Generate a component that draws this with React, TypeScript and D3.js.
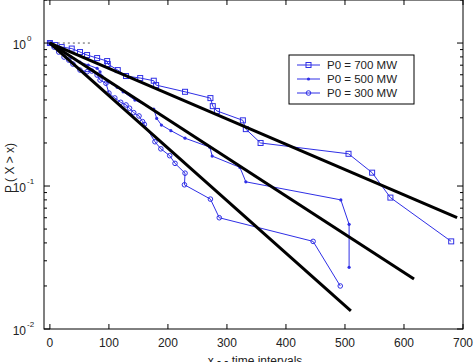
import React from 'react';
import * as d3 from 'd3';

const W = 474;
const H = 362;
const M = { top: 0, right: 11, bottom: 33, left: 44 };

// P0 = 700 MW (squares)
const p700X = [0, 9, 20, 37, 51, 63, 80, 97, 98, 115, 129, 153, 176, 180, 229, 272, 276, 283, 327, 332, 357, 506, 546, 577, 680];
const p700Y = [1, 0.968, 0.937, 0.915, 0.865, 0.824, 0.785, 0.748, 0.713, 0.647, 0.588, 0.569, 0.545, 0.508, 0.456, 0.412, 0.362, 0.335, 0.288, 0.25, 0.2, 0.168, 0.124, 0.083, 0.041];

// P0 = 500 MW (dots)
const p500X = [0, 10, 22, 36, 51, 65, 80, 85, 88, 98, 114, 124, 144, 176, 181, 189, 205, 229, 271, 275, 322, 332, 493, 507, 507];
const p500Y = [1, 0.937, 0.879, 0.798, 0.736, 0.702, 0.665, 0.63, 0.588, 0.534, 0.49, 0.456, 0.399, 0.345, 0.297, 0.267, 0.244, 0.216, 0.187, 0.162, 0.135, 0.107, 0.08, 0.054, 0.027];

// P0 = 300 MW (circles)
const p300X = [0, 7, 15, 24, 32, 39, 51, 63, 71, 80, 85, 95, 100, 110, 120, 129, 135, 142, 151, 157, 160, 178, 188, 203, 212, 229, 228, 272, 287, 446, 492];
const p300Y = [1, 0.937, 0.865, 0.798, 0.76, 0.713, 0.647, 0.63, 0.637, 0.597, 0.551, 0.523, 0.447, 0.413, 0.385, 0.369, 0.35, 0.326, 0.309, 0.282, 0.27, 0.204, 0.182, 0.163, 0.144, 0.123, 0.102, 0.081, 0.06, 0.041, 0.02];

// exponential fits (straight on log axis): [x0, P0, x1, P1]
const fitX = [[0, 690], [0, 617], [0, 510]];
const fitY = [[1, 0.06], [1, 0.0224], [1, 0.0134]];

const stubX = [5, 70];
const stubY = [1, 1];

const xTicks = [0, 100, 200, 300, 400, 500, 600, 700];
const yDecades = [1, 0.1, 0.01];
const yExp = ['0', '-1', '-2'];
const legendLabels = ['P0 = 700 MW', 'P0 = 500 MW', 'P0 = 300 MW'];

const BLUE = '#2f2fe6';
const FONT = 'Liberation Sans, Arial, sans-serif';

export default function App() {
  const innerW = W - M.left - M.right;
  const innerH = H - M.top - M.bottom;
  const x = d3.scaleLinear().domain([-10, 700]).range([M.left, M.left + innerW]);
  const y = d3.scaleLog().domain([0.01, 2]).range([M.top + innerH, M.top]);
  const line = d3.line<[number, number]>().x(d => x(d[0])).y(d => y(d[1]));
  const zip = (a: number[], b: number[]) => a.map((v, i) => [v, b[i]] as [number, number]);

  const s700 = zip(p700X, p700Y);
  const s500 = zip(p500X, p500Y);
  const s300 = zip(p300X, p300Y);

  const minor: number[] = [];
  [0.01, 0.1, 1].forEach(d => {
    for (let k = 2; k <= 9; k++) if (d * k <= 2) minor.push(d * k);
  });

  const x0 = M.left;
  const x1 = M.left + innerW;
  const y0 = M.top + innerH;
  const y1 = M.top;

  const square = (p: [number, number], i: number) => (
    <rect key={i} x={x(p[0]) - 2.5} y={y(p[1]) - 2.5} width={5} height={5} fill="none" stroke={BLUE} strokeWidth={1} />
  );
  const dot = (p: [number, number], i: number) => (
    <circle key={i} cx={x(p[0])} cy={y(p[1])} r={1.6} fill={BLUE} />
  );
  const ring = (p: [number, number], i: number) => (
    <circle key={i} cx={x(p[0])} cy={y(p[1])} r={2.3} fill="none" stroke={BLUE} strokeWidth={1} />
  );

  const legX = 289, legY = 55, legW = 125, legH = 49;

  return (
    <div style={{ position: 'fixed', left: 0, top: 0 }}>
      <svg width={W} height={H} style={{ display: 'block', background: '#fff' }} fontFamily={FONT}>
        <rect x={0} y={0} width={W} height={H} fill="#fff" />

        {/* stub at P = 1 */}
        <path d={line(zip(stubX, stubY)) || ''} fill="none" stroke="#555" strokeWidth={1} strokeDasharray="2,3" />

        {/* data series */}
        <path d={line(s700) || ''} fill="none" stroke={BLUE} strokeWidth={1} />
        <path d={line(s500) || ''} fill="none" stroke={BLUE} strokeWidth={1} />
        <path d={line(s300) || ''} fill="none" stroke={BLUE} strokeWidth={1} />
        {s700.map(square)}
        {s500.map(dot)}
        {s300.map(ring)}

        {/* fitted lines */}
        {fitX.map((fx, i) => (
          <path key={i} d={line(zip(fx, fitY[i])) || ''} fill="none" stroke="#000" strokeWidth={3} />
        ))}

        {/* axes box */}
        <rect x={x0} y={y1} width={innerW} height={innerH} fill="none" stroke="#000" strokeWidth={1} />

        {xTicks.map(t => (
          <g key={t}>
            <line x1={x(t)} x2={x(t)} y1={y0} y2={y0 - 5} stroke="#000" />
            <line x1={x(t)} x2={x(t)} y1={y1} y2={y1 + 5} stroke="#000" />
            <text x={x(t)} y={y0 + 18} textAnchor="middle" fontSize={12} fill="#222">{t}</text>
          </g>
        ))}

        {yDecades.map((t, i) => (
          <g key={t}>
            <line x1={x0} x2={x0 + 6} y1={y(t)} y2={y(t)} stroke="#000" />
            <line x1={x1} x2={x1 - 6} y1={y(t)} y2={y(t)} stroke="#000" />
            <text x={x0 - 18} y={y(t) + 6} textAnchor="end" fontSize={12} fill="#222">10</text>
            <text x={x0 - 17} y={y(t) - 2} textAnchor="start" fontSize={8} fill="#222">{yExp[i]}</text>
          </g>
        ))}
        {minor.map(t => (
          <g key={t}>
            <line x1={x0} x2={x0 + 3} y1={y(t)} y2={y(t)} stroke="#000" />
            <line x1={x1} x2={x1 - 3} y1={y(t)} y2={y(t)} stroke="#000" />
          </g>
        ))}

        {/* axis titles */}
        <text x={255} y={365} textAnchor="middle" fontSize={12} fill="#222">x - - time intervals</text>
        <text transform={`translate(14,${168}) rotate(-90)`} textAnchor="middle" fontSize={12} fill="#222">P ( X &gt; x)</text>

        {/* legend */}
        <rect x={legX} y={legY} width={legW} height={legH} fill="#fff" stroke="#000" strokeWidth={1} />
        {legendLabels.map((lab, i) => {
          const ly = legY + 10 + i * 14;
          const lx1 = legX + 8, lx2 = legX + 31, mx = (lx1 + lx2) / 2;
          return (
            <g key={lab}>
              <line x1={lx1} x2={lx2} y1={ly} y2={ly} stroke={BLUE} strokeWidth={1} />
              {i === 0 && <rect x={mx - 2.5} y={ly - 2.5} width={5} height={5} fill="none" stroke={BLUE} />}
              {i === 1 && <circle cx={mx} cy={ly} r={1.6} fill={BLUE} />}
              {i === 2 && <circle cx={mx} cy={ly} r={2.3} fill="none" stroke={BLUE} />}
              <text x={legX + 38} y={ly + 4} fontSize={11.5} fill="#222">{lab}</text>
            </g>
          );
        })}
      </svg>
    </div>
  );
}
